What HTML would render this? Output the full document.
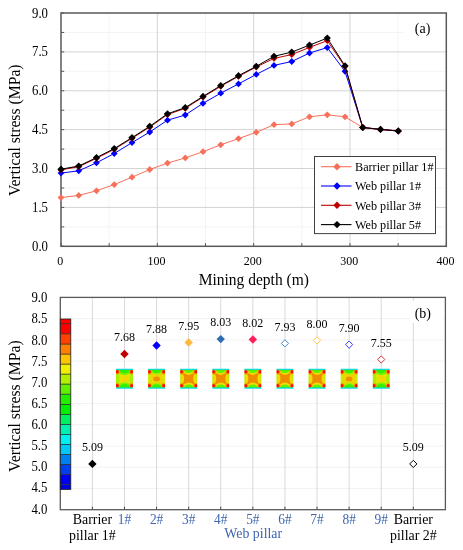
<!DOCTYPE html>
<html><head><meta charset="utf-8"><title>Vertical stress chart</title>
<style>html,body{margin:0;padding:0;background:#fff;overflow:hidden}svg{display:block}</style></head>
<body>
<svg width="463" height="550" viewBox="0 0 463 550" font-family='"Liberation Serif", "Times New Roman", serif'><defs><clipPath id="sqc"><rect x="0" y="0" width="17" height="20"/></clipPath><filter id="bl" x="-0.1" y="-0.1" width="1.2" height="1.2"><feGaussianBlur stdDeviation="0.55"/></filter><g id="sqA"><g clip-path="url(#sqc)"><g filter="url(#bl)"><rect x="-2" y="-2" width="21" height="24" fill="#e6e400"/><ellipse cx="-0.5" cy="10" rx="4.2" ry="7" fill="#a8f000"/><ellipse cx="17.5" cy="10" rx="4.2" ry="7" fill="#a8f000"/><ellipse cx="8.5" cy="0" rx="7.5" ry="6.5" fill="#80f000"/><ellipse cx="8.5" cy="20" rx="7.5" ry="6.5" fill="#80f000"/><ellipse cx="8.5" cy="0" rx="5.5" ry="4.8" fill="#30f000"/><ellipse cx="8.5" cy="20" rx="5.5" ry="4.8" fill="#30f000"/><ellipse cx="9" cy="10.5" rx="3.5" ry="3" fill="#f0d800"/><circle cx="1.2" cy="3.0" r="2.7" fill="#f0a000"/><circle cx="15.8" cy="3.0" r="2.7" fill="#f0a000"/><circle cx="1.2" cy="17.0" r="2.7" fill="#f0a000"/><circle cx="15.8" cy="17.0" r="2.7" fill="#f0a000"/><circle cx="1.2" cy="3.0" r="1.7" fill="#ff1000"/><circle cx="15.8" cy="3.0" r="1.7" fill="#ff1000"/><circle cx="1.2" cy="17.0" r="1.7" fill="#ff1000"/><circle cx="15.8" cy="17.0" r="1.7" fill="#ff1000"/><rect x="-2" y="-2" width="21" height="3.4" fill="#20e830"/><rect x="-2" y="18.6" width="21" height="3.4" fill="#20e830"/><rect x="-2" y="-2" width="21" height="3.1" fill="#10d8f0"/><rect x="-2" y="18.9" width="21" height="3.1" fill="#10d8f0"/></g></g></g><g id="sqB"><g clip-path="url(#sqc)"><g filter="url(#bl)"><rect x="-2" y="-2" width="21" height="24" fill="#f0d400"/><ellipse cx="-0.5" cy="10" rx="3" ry="6.5" fill="#c8f000"/><ellipse cx="17.5" cy="10" rx="3" ry="6.5" fill="#c8f000"/><ellipse cx="8.5" cy="0" rx="7" ry="6" fill="#a0f000"/><ellipse cx="8.5" cy="20" rx="7" ry="6" fill="#a0f000"/><ellipse cx="8.5" cy="0" rx="5.5" ry="4.5" fill="#40f000"/><ellipse cx="8.5" cy="20" rx="5.5" ry="4.5" fill="#40f000"/><ellipse cx="8.5" cy="10.2" rx="3.3" ry="2.4" fill="#f09000"/><circle cx="1.2" cy="3.0" r="2.7" fill="#f0a000"/><circle cx="15.8" cy="3.0" r="2.7" fill="#f0a000"/><circle cx="1.2" cy="17.0" r="2.7" fill="#f0a000"/><circle cx="15.8" cy="17.0" r="2.7" fill="#f0a000"/><circle cx="1.2" cy="3.0" r="1.7" fill="#ff1000"/><circle cx="15.8" cy="3.0" r="1.7" fill="#ff1000"/><circle cx="1.2" cy="17.0" r="1.7" fill="#ff1000"/><circle cx="15.8" cy="17.0" r="1.7" fill="#ff1000"/><rect x="-2" y="-2" width="21" height="3.4" fill="#20e830"/><rect x="-2" y="18.6" width="21" height="3.4" fill="#20e830"/><rect x="-2" y="-2" width="21" height="3.1" fill="#10d8f0"/><rect x="-2" y="18.9" width="21" height="3.1" fill="#10d8f0"/></g></g></g><g id="sqC"><g clip-path="url(#sqc)"><g filter="url(#bl)"><rect x="-2" y="-2" width="21" height="24" fill="#f08c00"/><ellipse cx="-0.5" cy="10" rx="4.5" ry="6.5" fill="#f0dc00"/><ellipse cx="17.5" cy="10" rx="4.5" ry="6.5" fill="#f0dc00"/><ellipse cx="-0.5" cy="10" rx="2" ry="5" fill="#c0f000"/><ellipse cx="17.5" cy="10" rx="2" ry="5" fill="#c0f000"/><ellipse cx="8.5" cy="0" rx="6.5" ry="6.2" fill="#f0dc00"/><ellipse cx="8.5" cy="20" rx="6.5" ry="6.2" fill="#f0dc00"/><ellipse cx="8.5" cy="0" rx="5.2" ry="4.3" fill="#60f000"/><ellipse cx="8.5" cy="20" rx="5.2" ry="4.3" fill="#60f000"/><circle cx="1.2" cy="3.0" r="2.7" fill="#f0a000"/><circle cx="15.8" cy="3.0" r="2.7" fill="#f0a000"/><circle cx="1.2" cy="17.0" r="2.7" fill="#f0a000"/><circle cx="15.8" cy="17.0" r="2.7" fill="#f0a000"/><circle cx="1.2" cy="3.0" r="1.7" fill="#ff1000"/><circle cx="15.8" cy="3.0" r="1.7" fill="#ff1000"/><circle cx="1.2" cy="17.0" r="1.7" fill="#ff1000"/><circle cx="15.8" cy="17.0" r="1.7" fill="#ff1000"/><rect x="-2" y="-2" width="21" height="3.4" fill="#20e830"/><rect x="-2" y="18.6" width="21" height="3.4" fill="#20e830"/><rect x="-2" y="-2" width="21" height="3.1" fill="#10d8f0"/><rect x="-2" y="18.9" width="21" height="3.1" fill="#10d8f0"/></g></g></g></defs><rect width="463" height="550" fill="#fff"/><line x1="61" y1="226.86" x2="446.3" y2="226.86" stroke="#f4f4f4" stroke-width="1"/>
<line x1="61" y1="187.97" x2="446.3" y2="187.97" stroke="#f4f4f4" stroke-width="1"/>
<line x1="61" y1="149.09" x2="446.3" y2="149.09" stroke="#f4f4f4" stroke-width="1"/>
<line x1="61" y1="110.21" x2="446.3" y2="110.21" stroke="#f4f4f4" stroke-width="1"/>
<line x1="61" y1="71.32" x2="446.3" y2="71.32" stroke="#f4f4f4" stroke-width="1"/>
<line x1="61" y1="32.44" x2="446.3" y2="32.44" stroke="#f4f4f4" stroke-width="1"/>
<line x1="109.16" y1="13" x2="109.16" y2="246.3" stroke="#f4f4f4" stroke-width="1"/>
<line x1="205.49" y1="13" x2="205.49" y2="246.3" stroke="#f4f4f4" stroke-width="1"/>
<line x1="301.81" y1="13" x2="301.81" y2="246.3" stroke="#f4f4f4" stroke-width="1"/>
<line x1="398.14" y1="13" x2="398.14" y2="246.3" stroke="#f4f4f4" stroke-width="1"/>
<line x1="61" y1="207.42" x2="446.3" y2="207.42" stroke="#d4d4d4" stroke-width="1"/>
<line x1="61" y1="168.53" x2="446.3" y2="168.53" stroke="#d4d4d4" stroke-width="1"/>
<line x1="61" y1="129.65" x2="446.3" y2="129.65" stroke="#d4d4d4" stroke-width="1"/>
<line x1="61" y1="90.77" x2="446.3" y2="90.77" stroke="#d4d4d4" stroke-width="1"/>
<line x1="61" y1="51.88" x2="446.3" y2="51.88" stroke="#d4d4d4" stroke-width="1"/>
<line x1="157.32" y1="13" x2="157.32" y2="246.3" stroke="#d4d4d4" stroke-width="1"/>
<line x1="253.65" y1="13" x2="253.65" y2="246.3" stroke="#d4d4d4" stroke-width="1"/>
<line x1="349.98" y1="13" x2="349.98" y2="246.3" stroke="#d4d4d4" stroke-width="1"/>
<line x1="61" y1="246.30" x2="64.2" y2="246.30" stroke="#555" stroke-width="1"/>
<line x1="61" y1="226.86" x2="64.2" y2="226.86" stroke="#555" stroke-width="1"/>
<line x1="61" y1="207.42" x2="64.2" y2="207.42" stroke="#555" stroke-width="1"/>
<line x1="61" y1="187.97" x2="64.2" y2="187.97" stroke="#555" stroke-width="1"/>
<line x1="61" y1="168.53" x2="64.2" y2="168.53" stroke="#555" stroke-width="1"/>
<line x1="61" y1="149.09" x2="64.2" y2="149.09" stroke="#555" stroke-width="1"/>
<line x1="61" y1="129.65" x2="64.2" y2="129.65" stroke="#555" stroke-width="1"/>
<line x1="61" y1="110.21" x2="64.2" y2="110.21" stroke="#555" stroke-width="1"/>
<line x1="61" y1="90.77" x2="64.2" y2="90.77" stroke="#555" stroke-width="1"/>
<line x1="61" y1="71.32" x2="64.2" y2="71.32" stroke="#555" stroke-width="1"/>
<line x1="61" y1="51.88" x2="64.2" y2="51.88" stroke="#555" stroke-width="1"/>
<line x1="61" y1="32.44" x2="64.2" y2="32.44" stroke="#555" stroke-width="1"/>
<line x1="61" y1="13.00" x2="64.2" y2="13.00" stroke="#555" stroke-width="1"/>
<line x1="61.00" y1="246.3" x2="61.00" y2="243.10000000000002" stroke="#555" stroke-width="1"/>
<line x1="109.16" y1="246.3" x2="109.16" y2="243.10000000000002" stroke="#555" stroke-width="1"/>
<line x1="157.32" y1="246.3" x2="157.32" y2="243.10000000000002" stroke="#555" stroke-width="1"/>
<line x1="205.49" y1="246.3" x2="205.49" y2="243.10000000000002" stroke="#555" stroke-width="1"/>
<line x1="253.65" y1="246.3" x2="253.65" y2="243.10000000000002" stroke="#555" stroke-width="1"/>
<line x1="301.81" y1="246.3" x2="301.81" y2="243.10000000000002" stroke="#555" stroke-width="1"/>
<line x1="349.98" y1="246.3" x2="349.98" y2="243.10000000000002" stroke="#555" stroke-width="1"/>
<line x1="398.14" y1="246.3" x2="398.14" y2="243.10000000000002" stroke="#555" stroke-width="1"/>
<line x1="446.30" y1="246.3" x2="446.30" y2="243.10000000000002" stroke="#555" stroke-width="1"/>
<rect x="61" y="13" width="385.3" height="233.3" fill="none" stroke="#595959" stroke-width="1.5"/>
<polyline points="61.00,197.60 78.75,195.40 96.50,190.80 114.25,184.60 132.00,177.20 149.75,169.50 167.50,163.10 185.25,157.90 203.00,151.70 220.75,144.80 238.50,138.60 256.25,132.30 274.00,124.70 291.75,123.90 309.50,116.80 327.25,114.80 345.00,116.80 362.75,127.50 380.50,129.40 398.25,131.00" fill="none" stroke="#f8705a" stroke-width="1.0"/>
<path d="M61.00 194.20L64.40 197.60L61.00 201.00L57.60 197.60Z" fill="#f8705a" stroke="none" stroke-width="0"/>
<path d="M78.75 192.00L82.15 195.40L78.75 198.80L75.35 195.40Z" fill="#f8705a" stroke="none" stroke-width="0"/>
<path d="M96.50 187.40L99.90 190.80L96.50 194.20L93.10 190.80Z" fill="#f8705a" stroke="none" stroke-width="0"/>
<path d="M114.25 181.20L117.65 184.60L114.25 188.00L110.85 184.60Z" fill="#f8705a" stroke="none" stroke-width="0"/>
<path d="M132.00 173.80L135.40 177.20L132.00 180.60L128.60 177.20Z" fill="#f8705a" stroke="none" stroke-width="0"/>
<path d="M149.75 166.10L153.15 169.50L149.75 172.90L146.35 169.50Z" fill="#f8705a" stroke="none" stroke-width="0"/>
<path d="M167.50 159.70L170.90 163.10L167.50 166.50L164.10 163.10Z" fill="#f8705a" stroke="none" stroke-width="0"/>
<path d="M185.25 154.50L188.65 157.90L185.25 161.30L181.85 157.90Z" fill="#f8705a" stroke="none" stroke-width="0"/>
<path d="M203.00 148.30L206.40 151.70L203.00 155.10L199.60 151.70Z" fill="#f8705a" stroke="none" stroke-width="0"/>
<path d="M220.75 141.40L224.15 144.80L220.75 148.20L217.35 144.80Z" fill="#f8705a" stroke="none" stroke-width="0"/>
<path d="M238.50 135.20L241.90 138.60L238.50 142.00L235.10 138.60Z" fill="#f8705a" stroke="none" stroke-width="0"/>
<path d="M256.25 128.90L259.65 132.30L256.25 135.70L252.85 132.30Z" fill="#f8705a" stroke="none" stroke-width="0"/>
<path d="M274.00 121.30L277.40 124.70L274.00 128.10L270.60 124.70Z" fill="#f8705a" stroke="none" stroke-width="0"/>
<path d="M291.75 120.50L295.15 123.90L291.75 127.30L288.35 123.90Z" fill="#f8705a" stroke="none" stroke-width="0"/>
<path d="M309.50 113.40L312.90 116.80L309.50 120.20L306.10 116.80Z" fill="#f8705a" stroke="none" stroke-width="0"/>
<path d="M327.25 111.40L330.65 114.80L327.25 118.20L323.85 114.80Z" fill="#f8705a" stroke="none" stroke-width="0"/>
<path d="M345.00 113.40L348.40 116.80L345.00 120.20L341.60 116.80Z" fill="#f8705a" stroke="none" stroke-width="0"/>
<path d="M362.75 124.10L366.15 127.50L362.75 130.90L359.35 127.50Z" fill="#f8705a" stroke="none" stroke-width="0"/>
<path d="M380.50 126.00L383.90 129.40L380.50 132.80L377.10 129.40Z" fill="#f8705a" stroke="none" stroke-width="0"/>
<path d="M398.25 127.60L401.65 131.00L398.25 134.40L394.85 131.00Z" fill="#f8705a" stroke="none" stroke-width="0"/>
<polyline points="61.00,173.10 78.75,170.80 96.50,162.80 114.25,153.50 132.00,142.60 149.75,132.00 167.50,120.20 185.25,115.00 203.00,103.30 220.75,93.20 238.50,83.90 256.25,74.40 274.00,65.40 291.75,61.50 309.50,53.00 327.25,47.60 345.00,71.30 362.75,127.50 380.50,129.40 398.25,131.00" fill="none" stroke="#0000ff" stroke-width="1.0"/>
<path d="M61.00 169.70L64.40 173.10L61.00 176.50L57.60 173.10Z" fill="#0000ff" stroke="none" stroke-width="0"/>
<path d="M78.75 167.40L82.15 170.80L78.75 174.20L75.35 170.80Z" fill="#0000ff" stroke="none" stroke-width="0"/>
<path d="M96.50 159.40L99.90 162.80L96.50 166.20L93.10 162.80Z" fill="#0000ff" stroke="none" stroke-width="0"/>
<path d="M114.25 150.10L117.65 153.50L114.25 156.90L110.85 153.50Z" fill="#0000ff" stroke="none" stroke-width="0"/>
<path d="M132.00 139.20L135.40 142.60L132.00 146.00L128.60 142.60Z" fill="#0000ff" stroke="none" stroke-width="0"/>
<path d="M149.75 128.60L153.15 132.00L149.75 135.40L146.35 132.00Z" fill="#0000ff" stroke="none" stroke-width="0"/>
<path d="M167.50 116.80L170.90 120.20L167.50 123.60L164.10 120.20Z" fill="#0000ff" stroke="none" stroke-width="0"/>
<path d="M185.25 111.60L188.65 115.00L185.25 118.40L181.85 115.00Z" fill="#0000ff" stroke="none" stroke-width="0"/>
<path d="M203.00 99.90L206.40 103.30L203.00 106.70L199.60 103.30Z" fill="#0000ff" stroke="none" stroke-width="0"/>
<path d="M220.75 89.80L224.15 93.20L220.75 96.60L217.35 93.20Z" fill="#0000ff" stroke="none" stroke-width="0"/>
<path d="M238.50 80.50L241.90 83.90L238.50 87.30L235.10 83.90Z" fill="#0000ff" stroke="none" stroke-width="0"/>
<path d="M256.25 71.00L259.65 74.40L256.25 77.80L252.85 74.40Z" fill="#0000ff" stroke="none" stroke-width="0"/>
<path d="M274.00 62.00L277.40 65.40L274.00 68.80L270.60 65.40Z" fill="#0000ff" stroke="none" stroke-width="0"/>
<path d="M291.75 58.10L295.15 61.50L291.75 64.90L288.35 61.50Z" fill="#0000ff" stroke="none" stroke-width="0"/>
<path d="M309.50 49.60L312.90 53.00L309.50 56.40L306.10 53.00Z" fill="#0000ff" stroke="none" stroke-width="0"/>
<path d="M327.25 44.20L330.65 47.60L327.25 51.00L323.85 47.60Z" fill="#0000ff" stroke="none" stroke-width="0"/>
<path d="M345.00 67.90L348.40 71.30L345.00 74.70L341.60 71.30Z" fill="#0000ff" stroke="none" stroke-width="0"/>
<path d="M362.75 124.10L366.15 127.50L362.75 130.90L359.35 127.50Z" fill="#0000ff" stroke="none" stroke-width="0"/>
<path d="M380.50 126.00L383.90 129.40L380.50 132.80L377.10 129.40Z" fill="#0000ff" stroke="none" stroke-width="0"/>
<path d="M398.25 127.60L401.65 131.00L398.25 134.40L394.85 131.00Z" fill="#0000ff" stroke="none" stroke-width="0"/>
<polyline points="61.00,169.90 78.75,166.70 96.50,158.30 114.25,149.30 132.00,138.30 149.75,127.00 167.50,114.50 185.25,108.30 203.00,97.10 220.75,86.30 238.50,76.40 256.25,67.00 274.00,58.40 291.75,54.60 309.50,47.40 327.25,40.70 345.00,66.60 362.75,127.50 380.50,129.40 398.25,131.00" fill="none" stroke="#c00000" stroke-width="1.0"/>
<path d="M61.00 166.50L64.40 169.90L61.00 173.30L57.60 169.90Z" fill="#c00000" stroke="none" stroke-width="0"/>
<path d="M78.75 163.30L82.15 166.70L78.75 170.10L75.35 166.70Z" fill="#c00000" stroke="none" stroke-width="0"/>
<path d="M96.50 154.90L99.90 158.30L96.50 161.70L93.10 158.30Z" fill="#c00000" stroke="none" stroke-width="0"/>
<path d="M114.25 145.90L117.65 149.30L114.25 152.70L110.85 149.30Z" fill="#c00000" stroke="none" stroke-width="0"/>
<path d="M132.00 134.90L135.40 138.30L132.00 141.70L128.60 138.30Z" fill="#c00000" stroke="none" stroke-width="0"/>
<path d="M149.75 123.60L153.15 127.00L149.75 130.40L146.35 127.00Z" fill="#c00000" stroke="none" stroke-width="0"/>
<path d="M167.50 111.10L170.90 114.50L167.50 117.90L164.10 114.50Z" fill="#c00000" stroke="none" stroke-width="0"/>
<path d="M185.25 104.90L188.65 108.30L185.25 111.70L181.85 108.30Z" fill="#c00000" stroke="none" stroke-width="0"/>
<path d="M203.00 93.70L206.40 97.10L203.00 100.50L199.60 97.10Z" fill="#c00000" stroke="none" stroke-width="0"/>
<path d="M220.75 82.90L224.15 86.30L220.75 89.70L217.35 86.30Z" fill="#c00000" stroke="none" stroke-width="0"/>
<path d="M238.50 73.00L241.90 76.40L238.50 79.80L235.10 76.40Z" fill="#c00000" stroke="none" stroke-width="0"/>
<path d="M256.25 63.60L259.65 67.00L256.25 70.40L252.85 67.00Z" fill="#c00000" stroke="none" stroke-width="0"/>
<path d="M274.00 55.00L277.40 58.40L274.00 61.80L270.60 58.40Z" fill="#c00000" stroke="none" stroke-width="0"/>
<path d="M291.75 51.20L295.15 54.60L291.75 58.00L288.35 54.60Z" fill="#c00000" stroke="none" stroke-width="0"/>
<path d="M309.50 44.00L312.90 47.40L309.50 50.80L306.10 47.40Z" fill="#c00000" stroke="none" stroke-width="0"/>
<path d="M327.25 37.30L330.65 40.70L327.25 44.10L323.85 40.70Z" fill="#c00000" stroke="none" stroke-width="0"/>
<path d="M345.00 63.20L348.40 66.60L345.00 70.00L341.60 66.60Z" fill="#c00000" stroke="none" stroke-width="0"/>
<path d="M362.75 124.10L366.15 127.50L362.75 130.90L359.35 127.50Z" fill="#c00000" stroke="none" stroke-width="0"/>
<path d="M380.50 126.00L383.90 129.40L380.50 132.80L377.10 129.40Z" fill="#c00000" stroke="none" stroke-width="0"/>
<path d="M398.25 127.60L401.65 131.00L398.25 134.40L394.85 131.00Z" fill="#c00000" stroke="none" stroke-width="0"/>
<polyline points="61.00,169.20 78.75,166.00 96.50,157.60 114.25,148.60 132.00,137.60 149.75,126.30 167.50,113.80 185.25,107.60 203.00,96.40 220.75,85.60 238.50,75.70 256.25,66.30 274.00,56.30 291.75,52.10 309.50,45.10 327.25,38.10 345.00,65.80 362.75,127.50 380.50,129.40 398.25,131.00" fill="none" stroke="#000000" stroke-width="1.0"/>
<path d="M61.00 165.60L64.60 169.20L61.00 172.80L57.40 169.20Z" fill="#000000" stroke="none" stroke-width="0"/>
<path d="M78.75 162.40L82.35 166.00L78.75 169.60L75.15 166.00Z" fill="#000000" stroke="none" stroke-width="0"/>
<path d="M96.50 154.00L100.10 157.60L96.50 161.20L92.90 157.60Z" fill="#000000" stroke="none" stroke-width="0"/>
<path d="M114.25 145.00L117.85 148.60L114.25 152.20L110.65 148.60Z" fill="#000000" stroke="none" stroke-width="0"/>
<path d="M132.00 134.00L135.60 137.60L132.00 141.20L128.40 137.60Z" fill="#000000" stroke="none" stroke-width="0"/>
<path d="M149.75 122.70L153.35 126.30L149.75 129.90L146.15 126.30Z" fill="#000000" stroke="none" stroke-width="0"/>
<path d="M167.50 110.20L171.10 113.80L167.50 117.40L163.90 113.80Z" fill="#000000" stroke="none" stroke-width="0"/>
<path d="M185.25 104.00L188.85 107.60L185.25 111.20L181.65 107.60Z" fill="#000000" stroke="none" stroke-width="0"/>
<path d="M203.00 92.80L206.60 96.40L203.00 100.00L199.40 96.40Z" fill="#000000" stroke="none" stroke-width="0"/>
<path d="M220.75 82.00L224.35 85.60L220.75 89.20L217.15 85.60Z" fill="#000000" stroke="none" stroke-width="0"/>
<path d="M238.50 72.10L242.10 75.70L238.50 79.30L234.90 75.70Z" fill="#000000" stroke="none" stroke-width="0"/>
<path d="M256.25 62.70L259.85 66.30L256.25 69.90L252.65 66.30Z" fill="#000000" stroke="none" stroke-width="0"/>
<path d="M274.00 52.70L277.60 56.30L274.00 59.90L270.40 56.30Z" fill="#000000" stroke="none" stroke-width="0"/>
<path d="M291.75 48.50L295.35 52.10L291.75 55.70L288.15 52.10Z" fill="#000000" stroke="none" stroke-width="0"/>
<path d="M309.50 41.50L313.10 45.10L309.50 48.70L305.90 45.10Z" fill="#000000" stroke="none" stroke-width="0"/>
<path d="M327.25 34.50L330.85 38.10L327.25 41.70L323.65 38.10Z" fill="#000000" stroke="none" stroke-width="0"/>
<path d="M345.00 62.20L348.60 65.80L345.00 69.40L341.40 65.80Z" fill="#000000" stroke="none" stroke-width="0"/>
<path d="M362.75 123.90L366.35 127.50L362.75 131.10L359.15 127.50Z" fill="#000000" stroke="none" stroke-width="0"/>
<path d="M380.50 125.80L384.10 129.40L380.50 133.00L376.90 129.40Z" fill="#000000" stroke="none" stroke-width="0"/>
<path d="M398.25 127.40L401.85 131.00L398.25 134.60L394.65 131.00Z" fill="#000000" stroke="none" stroke-width="0"/>
<rect x="314.5" y="156.5" width="121.0" height="77.1" fill="#fff" stroke="#404040" stroke-width="1"/>
<line x1="321" y1="166.70" x2="351.5" y2="166.70" stroke="#f8705a" stroke-width="1.1"/>
<path d="M337.00 163.00L340.70 166.70L337.00 170.40L333.30 166.70Z" fill="#f8705a" stroke="none" stroke-width="0"/>
<text transform="translate(355,171.00) scale(1,1.06)" font-size="12.2" fill="#000">Barrier pillar 1#</text>
<line x1="321" y1="186.00" x2="351.5" y2="186.00" stroke="#0000ff" stroke-width="1.1"/>
<path d="M337.00 182.30L340.70 186.00L337.00 189.70L333.30 186.00Z" fill="#0000ff" stroke="none" stroke-width="0"/>
<text transform="translate(355,190.30) scale(1,1.06)" font-size="12.2" fill="#000">Web pillar 1#</text>
<line x1="321" y1="205.30" x2="351.5" y2="205.30" stroke="#c00000" stroke-width="1.1"/>
<path d="M337.00 201.60L340.70 205.30L337.00 209.00L333.30 205.30Z" fill="#c00000" stroke="none" stroke-width="0"/>
<text transform="translate(355,209.60) scale(1,1.06)" font-size="12.2" fill="#000">Web pillar 3#</text>
<line x1="321" y1="224.60" x2="351.5" y2="224.60" stroke="#000000" stroke-width="1.1"/>
<path d="M337.00 220.90L340.70 224.60L337.00 228.30L333.30 224.60Z" fill="#000000" stroke="none" stroke-width="0"/>
<text transform="translate(355,228.90) scale(1,1.06)" font-size="12.2" fill="#000">Web pillar 5#</text>
<text transform="translate(48,250.90) scale(1,1.06)" font-size="12.8" text-anchor="end">0.0</text>
<text transform="translate(48,212.02) scale(1,1.06)" font-size="12.8" text-anchor="end">1.5</text>
<text transform="translate(48,173.13) scale(1,1.06)" font-size="12.8" text-anchor="end">3.0</text>
<text transform="translate(48,134.25) scale(1,1.06)" font-size="12.8" text-anchor="end">4.5</text>
<text transform="translate(48,95.37) scale(1,1.06)" font-size="12.8" text-anchor="end">6.0</text>
<text transform="translate(48,56.48) scale(1,1.06)" font-size="12.8" text-anchor="end">7.5</text>
<text transform="translate(48,17.60) scale(1,1.06)" font-size="12.8" text-anchor="end">9.0</text>
<text transform="translate(60.20,265) scale(1,1.06)" font-size="12" text-anchor="middle">0</text>
<text transform="translate(156.52,265) scale(1,1.06)" font-size="12" text-anchor="middle">100</text>
<text transform="translate(252.85,265) scale(1,1.06)" font-size="12" text-anchor="middle">200</text>
<text transform="translate(349.18,265) scale(1,1.06)" font-size="12" text-anchor="middle">300</text>
<text transform="translate(445.50,265) scale(1,1.06)" font-size="12" text-anchor="middle">400</text>
<text transform="translate(253.8,284.6) scale(1,1.06)" font-size="15.5" text-anchor="middle">Mining depth (m)</text>
<text transform="translate(19.8,130.2) rotate(-90)" font-size="15.7" text-anchor="middle">Vertical stress (MPa)</text>
<rect x="404" y="19" width="41" height="26" fill="#fff"/>
<text transform="translate(422.6,33.0) scale(1,1.06)" font-size="14" text-anchor="middle">(a)</text>
<line x1="60.3" y1="318.63" x2="445.4" y2="318.63" stroke="#f2f2f2" stroke-width="1"/>
<line x1="60.3" y1="339.86" x2="445.4" y2="339.86" stroke="#f2f2f2" stroke-width="1"/>
<line x1="60.3" y1="361.09" x2="445.4" y2="361.09" stroke="#f2f2f2" stroke-width="1"/>
<line x1="60.3" y1="382.32" x2="445.4" y2="382.32" stroke="#f2f2f2" stroke-width="1"/>
<line x1="60.3" y1="403.55" x2="445.4" y2="403.55" stroke="#f2f2f2" stroke-width="1"/>
<line x1="60.3" y1="424.78" x2="445.4" y2="424.78" stroke="#f2f2f2" stroke-width="1"/>
<line x1="60.3" y1="446.01" x2="445.4" y2="446.01" stroke="#f2f2f2" stroke-width="1"/>
<line x1="60.3" y1="467.24" x2="445.4" y2="467.24" stroke="#f2f2f2" stroke-width="1"/>
<line x1="60.3" y1="488.47" x2="445.4" y2="488.47" stroke="#f2f2f2" stroke-width="1"/>
<line x1="92.39" y1="297.4" x2="92.39" y2="509.7" stroke="#d9d9d9" stroke-width="1"/>
<line x1="92.39" y1="509.7" x2="92.39" y2="506.7" stroke="#444" stroke-width="1"/>
<line x1="124.48" y1="297.4" x2="124.48" y2="509.7" stroke="#d9d9d9" stroke-width="1"/>
<line x1="124.48" y1="509.7" x2="124.48" y2="506.7" stroke="#444" stroke-width="1"/>
<line x1="156.57" y1="297.4" x2="156.57" y2="509.7" stroke="#d9d9d9" stroke-width="1"/>
<line x1="156.57" y1="509.7" x2="156.57" y2="506.7" stroke="#444" stroke-width="1"/>
<line x1="188.67" y1="297.4" x2="188.67" y2="509.7" stroke="#d9d9d9" stroke-width="1"/>
<line x1="188.67" y1="509.7" x2="188.67" y2="506.7" stroke="#444" stroke-width="1"/>
<line x1="220.76" y1="297.4" x2="220.76" y2="509.7" stroke="#d9d9d9" stroke-width="1"/>
<line x1="220.76" y1="509.7" x2="220.76" y2="506.7" stroke="#444" stroke-width="1"/>
<line x1="252.85" y1="297.4" x2="252.85" y2="509.7" stroke="#d9d9d9" stroke-width="1"/>
<line x1="252.85" y1="509.7" x2="252.85" y2="506.7" stroke="#444" stroke-width="1"/>
<line x1="284.94" y1="297.4" x2="284.94" y2="509.7" stroke="#d9d9d9" stroke-width="1"/>
<line x1="284.94" y1="509.7" x2="284.94" y2="506.7" stroke="#444" stroke-width="1"/>
<line x1="317.03" y1="297.4" x2="317.03" y2="509.7" stroke="#d9d9d9" stroke-width="1"/>
<line x1="317.03" y1="509.7" x2="317.03" y2="506.7" stroke="#444" stroke-width="1"/>
<line x1="349.12" y1="297.4" x2="349.12" y2="509.7" stroke="#d9d9d9" stroke-width="1"/>
<line x1="349.12" y1="509.7" x2="349.12" y2="506.7" stroke="#444" stroke-width="1"/>
<line x1="381.22" y1="297.4" x2="381.22" y2="509.7" stroke="#d9d9d9" stroke-width="1"/>
<line x1="381.22" y1="509.7" x2="381.22" y2="506.7" stroke="#444" stroke-width="1"/>
<line x1="413.31" y1="297.4" x2="413.31" y2="509.7" stroke="#d9d9d9" stroke-width="1"/>
<line x1="413.31" y1="509.7" x2="413.31" y2="506.7" stroke="#444" stroke-width="1"/>
<rect x="410" y="301" width="33" height="22" fill="#fff"/>
<rect x="60.3" y="297.4" width="385.09999999999997" height="212.3" fill="none" stroke="#5a5a5a" stroke-width="1.3"/>
<rect x="60.3" y="319.00" width="10.5" height="4.60" fill="#ff0000"/>
<rect x="60.3" y="323.60" width="10.5" height="10.20" fill="#ff0000"/>
<rect x="60.3" y="333.80" width="10.5" height="10.40" fill="#ff4000"/>
<rect x="60.3" y="344.20" width="10.5" height="10.00" fill="#ff8000"/>
<rect x="60.3" y="354.20" width="10.5" height="10.00" fill="#ffc400"/>
<rect x="60.3" y="364.20" width="10.5" height="10.00" fill="#f0f000"/>
<rect x="60.3" y="374.20" width="10.5" height="10.00" fill="#b0f000"/>
<rect x="60.3" y="384.20" width="10.5" height="10.10" fill="#60f000"/>
<rect x="60.3" y="394.30" width="10.5" height="10.20" fill="#20f000"/>
<rect x="60.3" y="404.50" width="10.5" height="10.00" fill="#00f000"/>
<rect x="60.3" y="414.50" width="10.5" height="10.00" fill="#00f060"/>
<rect x="60.3" y="424.50" width="10.5" height="10.00" fill="#00f0b0"/>
<rect x="60.3" y="434.50" width="10.5" height="10.00" fill="#00f0f0"/>
<rect x="60.3" y="444.50" width="10.5" height="10.00" fill="#00c8f8"/>
<rect x="60.3" y="454.50" width="10.5" height="10.00" fill="#0080f0"/>
<rect x="60.3" y="464.50" width="10.5" height="9.90" fill="#0040f0"/>
<rect x="60.3" y="474.40" width="10.5" height="10.00" fill="#0000f0"/>
<rect x="60.3" y="484.40" width="10.5" height="5.10" fill="#0000e0"/>
<line x1="60.3" y1="323.60" x2="70.8" y2="323.60" stroke="#202020" stroke-opacity="0.75" stroke-width="1"/>
<line x1="60.3" y1="333.80" x2="70.8" y2="333.80" stroke="#202020" stroke-opacity="0.75" stroke-width="1"/>
<line x1="60.3" y1="344.20" x2="70.8" y2="344.20" stroke="#202020" stroke-opacity="0.75" stroke-width="1"/>
<line x1="60.3" y1="354.20" x2="70.8" y2="354.20" stroke="#202020" stroke-opacity="0.75" stroke-width="1"/>
<line x1="60.3" y1="364.20" x2="70.8" y2="364.20" stroke="#202020" stroke-opacity="0.75" stroke-width="1"/>
<line x1="60.3" y1="374.20" x2="70.8" y2="374.20" stroke="#202020" stroke-opacity="0.75" stroke-width="1"/>
<line x1="60.3" y1="384.20" x2="70.8" y2="384.20" stroke="#202020" stroke-opacity="0.75" stroke-width="1"/>
<line x1="60.3" y1="394.30" x2="70.8" y2="394.30" stroke="#202020" stroke-opacity="0.75" stroke-width="1"/>
<line x1="60.3" y1="404.50" x2="70.8" y2="404.50" stroke="#202020" stroke-opacity="0.75" stroke-width="1"/>
<line x1="60.3" y1="414.50" x2="70.8" y2="414.50" stroke="#202020" stroke-opacity="0.75" stroke-width="1"/>
<line x1="60.3" y1="424.50" x2="70.8" y2="424.50" stroke="#202020" stroke-opacity="0.75" stroke-width="1"/>
<line x1="60.3" y1="434.50" x2="70.8" y2="434.50" stroke="#202020" stroke-opacity="0.75" stroke-width="1"/>
<line x1="60.3" y1="444.50" x2="70.8" y2="444.50" stroke="#202020" stroke-opacity="0.75" stroke-width="1"/>
<line x1="60.3" y1="454.50" x2="70.8" y2="454.50" stroke="#202020" stroke-opacity="0.75" stroke-width="1"/>
<line x1="60.3" y1="464.50" x2="70.8" y2="464.50" stroke="#202020" stroke-opacity="0.75" stroke-width="1"/>
<line x1="60.3" y1="474.40" x2="70.8" y2="474.40" stroke="#202020" stroke-opacity="0.75" stroke-width="1"/>
<line x1="60.3" y1="484.40" x2="70.8" y2="484.40" stroke="#202020" stroke-opacity="0.75" stroke-width="1"/>
<rect x="60.3" y="319" width="10.5" height="170.5" fill="none" stroke="#202020" stroke-width="0.8"/>
<use href="#sqA" x="115.98" y="368.7"/>
<use href="#sqB" x="148.07" y="368.7"/>
<use href="#sqC" x="180.17" y="368.7"/>
<use href="#sqC" x="212.26" y="368.7"/>
<use href="#sqC" x="244.35" y="368.7"/>
<use href="#sqC" x="276.44" y="368.7"/>
<use href="#sqC" x="308.53" y="368.7"/>
<use href="#sqB" x="340.62" y="368.7"/>
<use href="#sqA" x="372.72" y="368.7"/>
<path d="M92.39 459.72L96.59 463.92L92.39 468.12L88.19 463.92Z" fill="#000000" stroke="none" stroke-width="0"/>
<text transform="translate(92.39,451.32) scale(1,1.06)" font-size="12" text-anchor="middle">5.09</text>
<path d="M124.48 349.75L128.68 353.95L124.48 358.15L120.28 353.95Z" fill="#c00000" stroke="none" stroke-width="0"/>
<text transform="translate(124.48,341.35) scale(1,1.06)" font-size="12" text-anchor="middle">7.68</text>
<path d="M156.57 341.26L160.77 345.46L156.57 349.66L152.38 345.46Z" fill="#0000ff" stroke="none" stroke-width="0"/>
<text transform="translate(156.57,332.86) scale(1,1.06)" font-size="12" text-anchor="middle">7.88</text>
<path d="M188.67 338.28L192.87 342.48L188.67 346.68L184.47 342.48Z" fill="#ffb83f" stroke="none" stroke-width="0"/>
<text transform="translate(188.67,329.88) scale(1,1.06)" font-size="12" text-anchor="middle">7.95</text>
<path d="M220.76 334.89L224.96 339.09L220.76 343.29L216.56 339.09Z" fill="#2e6db4" stroke="none" stroke-width="0"/>
<text transform="translate(220.76,326.49) scale(1,1.06)" font-size="12" text-anchor="middle">8.03</text>
<path d="M252.85 335.31L257.05 339.51L252.85 343.71L248.65 339.51Z" fill="#ff1e5a" stroke="none" stroke-width="0"/>
<text transform="translate(252.85,326.91) scale(1,1.06)" font-size="12" text-anchor="middle">8.02</text>
<path d="M284.94 339.73L288.54 343.33L284.94 346.93L281.34 343.33Z" fill="#fff" stroke="#4f88c6" stroke-width="1"/>
<text transform="translate(284.94,330.73) scale(1,1.06)" font-size="12" text-anchor="middle">7.93</text>
<path d="M317.03 336.76L320.63 340.36L317.03 343.96L313.43 340.36Z" fill="#fff" stroke="#ffc54a" stroke-width="1"/>
<text transform="translate(317.03,327.76) scale(1,1.06)" font-size="12" text-anchor="middle">8.00</text>
<path d="M349.12 341.01L352.73 344.61L349.12 348.21L345.52 344.61Z" fill="#fff" stroke="#3a3aff" stroke-width="1"/>
<text transform="translate(349.12,332.01) scale(1,1.06)" font-size="12" text-anchor="middle">7.90</text>
<path d="M381.22 355.87L384.82 359.47L381.22 363.07L377.62 359.47Z" fill="#fff" stroke="#d83030" stroke-width="1"/>
<text transform="translate(381.22,346.87) scale(1,1.06)" font-size="12" text-anchor="middle">7.55</text>
<path d="M413.31 460.32L416.91 463.92L413.31 467.52L409.71 463.92Z" fill="#fff" stroke="#000000" stroke-width="1"/>
<text transform="translate(413.31,451.32) scale(1,1.06)" font-size="12" text-anchor="middle">5.09</text>
<text transform="translate(47.4,302.30) scale(1,1.06)" font-size="12.8" text-anchor="end">9.0</text>
<text transform="translate(47.4,323.42) scale(1,1.06)" font-size="12.8" text-anchor="end">8.5</text>
<text transform="translate(47.4,344.54) scale(1,1.06)" font-size="12.8" text-anchor="end">8.0</text>
<text transform="translate(47.4,365.66) scale(1,1.06)" font-size="12.8" text-anchor="end">7.5</text>
<text transform="translate(47.4,386.78) scale(1,1.06)" font-size="12.8" text-anchor="end">7.0</text>
<text transform="translate(47.4,407.90) scale(1,1.06)" font-size="12.8" text-anchor="end">6.5</text>
<text transform="translate(47.4,429.02) scale(1,1.06)" font-size="12.8" text-anchor="end">6.0</text>
<text transform="translate(47.4,450.14) scale(1,1.06)" font-size="12.8" text-anchor="end">5.5</text>
<text transform="translate(47.4,471.26) scale(1,1.06)" font-size="12.8" text-anchor="end">5.0</text>
<text transform="translate(47.4,492.38) scale(1,1.06)" font-size="12.8" text-anchor="end">4.5</text>
<text transform="translate(47.4,513.50) scale(1,1.06)" font-size="12.8" text-anchor="end">4.0</text>
<text transform="translate(19.8,406.1) rotate(-90)" font-size="15.7" text-anchor="middle">Vertical stress (MPa)</text>
<text transform="translate(422.8,317.6) scale(1,1.06)" font-size="14" text-anchor="middle">(b)</text>
<text transform="translate(92.39,523.9) scale(1,1.06)" font-size="13.9" text-anchor="middle">Barrier</text>
<text transform="translate(92.39,539.6) scale(1,1.06)" font-size="13.9" text-anchor="middle">pillar 1#</text>
<text transform="translate(413.31,523.9) scale(1,1.06)" font-size="13.9" text-anchor="middle">Barrier</text>
<text transform="translate(413.31,539.6) scale(1,1.06)" font-size="13.9" text-anchor="middle">pillar 2#</text>
<text transform="translate(124.48,523.9) scale(1,1.06)" font-size="13.4" text-anchor="middle" fill="#3d66b0">1#</text>
<text transform="translate(156.57,523.9) scale(1,1.06)" font-size="13.4" text-anchor="middle" fill="#3d66b0">2#</text>
<text transform="translate(188.67,523.9) scale(1,1.06)" font-size="13.4" text-anchor="middle" fill="#3d66b0">3#</text>
<text transform="translate(220.76,523.9) scale(1,1.06)" font-size="13.4" text-anchor="middle" fill="#3d66b0">4#</text>
<text transform="translate(252.85,523.9) scale(1,1.06)" font-size="13.4" text-anchor="middle" fill="#3d66b0">5#</text>
<text transform="translate(284.94,523.9) scale(1,1.06)" font-size="13.4" text-anchor="middle" fill="#3d66b0">6#</text>
<text transform="translate(317.03,523.9) scale(1,1.06)" font-size="13.4" text-anchor="middle" fill="#3d66b0">7#</text>
<text transform="translate(349.12,523.9) scale(1,1.06)" font-size="13.4" text-anchor="middle" fill="#3d66b0">8#</text>
<text transform="translate(381.22,523.9) scale(1,1.06)" font-size="13.4" text-anchor="middle" fill="#3d66b0">9#</text>
<text transform="translate(253.2,538.3) scale(1,1.06)" font-size="13.9" text-anchor="middle" fill="#3d66b0">Web pillar</text></svg>
</body></html>
